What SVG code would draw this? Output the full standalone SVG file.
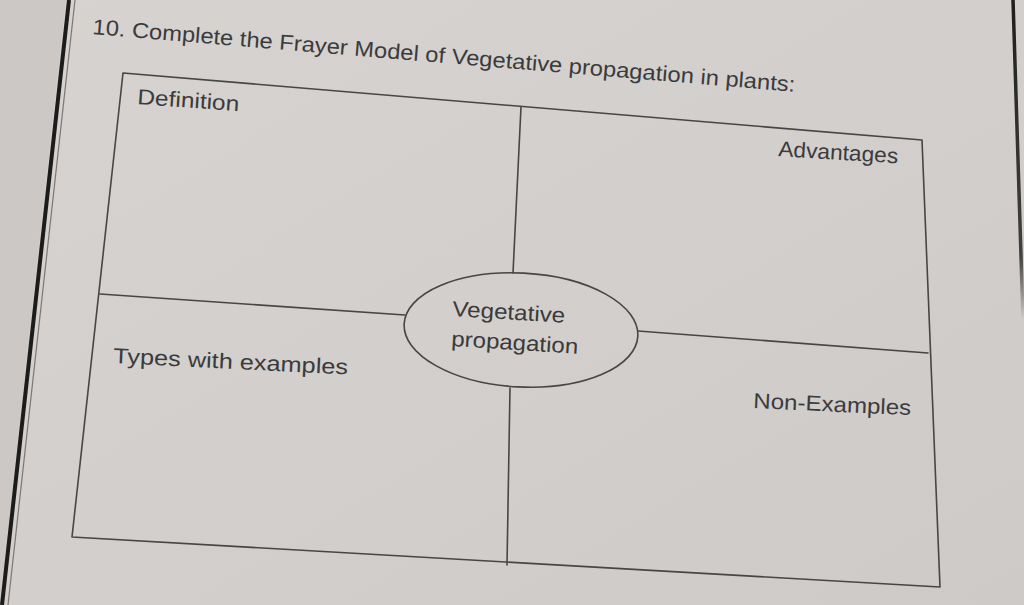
<svg xmlns="http://www.w3.org/2000/svg" width="1024" height="605" viewBox="0 0 1024 605">
  <defs>
    <linearGradient id="paper" x1="0" y1="0" x2="1" y2="1">
      <stop offset="0" stop-color="#d6d3d1"/>
      <stop offset="0.5" stop-color="#d2cfcd"/>
      <stop offset="1" stop-color="#cdcac8"/>
    </linearGradient>
    <linearGradient id="fade" x1="0" y1="0" x2="0" y2="1">
      <stop offset="0" stop-color="#1e1e1e" stop-opacity="1"/>
      <stop offset="0.8" stop-color="#1e1e1e" stop-opacity="0.8"/>
      <stop offset="1" stop-color="#1e1e1e" stop-opacity="0"/>
    </linearGradient>
    <style>
      .ln { fill: none; stroke: #464646; stroke-width: 1.6; stroke-linecap: round; stroke-linejoin: round; }
      .tx { font-family: "Liberation Sans", Arial, sans-serif; fill: #3b3b3b; font-size: 21.5px; }
    </style>
  </defs>

  <rect x="0" y="0" width="1024" height="605" fill="url(#paper)"/>
  <polygon points="0,0 66,0 0,600" fill="#cbc8c6"/>

  <g id="page-edges">
    <line x1="69" y1="0" x2="2" y2="605" stroke="#1c1c1c" stroke-width="4"/>
    <line x1="75" y1="0" x2="8" y2="605" stroke="#7a7877" stroke-width="1.2"/>
    <line x1="1013" y1="0" x2="1023" y2="320" stroke="url(#fade)" stroke-width="3.5"/>
  </g>

  <g id="title">
    <text class="tx" transform="translate(92,34) rotate(4.7)" textLength="705" lengthAdjust="spacingAndGlyphs">10. Complete the Frayer Model of Vegetative propagation in plants:</text>
  </g>

  <g id="frame">
    <polygon class="ln" points="123,73 922,140 940,587 72,537"/>
  </g>

  <g id="connectors">
    <line class="ln" x1="521" y1="107" x2="513" y2="273"/>
    <line class="ln" x1="510" y1="388" x2="507" y2="565"/>
    <line class="ln" x1="100" y1="294" x2="405" y2="315"/>
    <line class="ln" x1="638" y1="331" x2="928" y2="353"/>
  </g>

  <g id="definition">
    <text class="tx" transform="translate(137,104) rotate(4)" textLength="102" lengthAdjust="spacingAndGlyphs">Definition</text>
  </g>

  <g id="advantages">
    <text class="tx" transform="translate(778,156) rotate(3.5)" textLength="120" lengthAdjust="spacingAndGlyphs">Advantages</text>
  </g>

  <g id="types-with-examples">
    <text class="tx" transform="translate(113,363) rotate(2.8)" textLength="235" lengthAdjust="spacingAndGlyphs">Types with examples</text>
  </g>

  <g id="non-examples">
    <text class="tx" transform="translate(753,408) rotate(2.6)" textLength="158" lengthAdjust="spacingAndGlyphs">Non-Examples</text>
  </g>

  <g id="center">
    <ellipse class="ln" cx="521" cy="330" rx="117" ry="57" transform="rotate(3 521 330)"/>
    <text class="tx" transform="translate(452,316) rotate(3.5)" textLength="113" lengthAdjust="spacingAndGlyphs">Vegetative</text>
    <text class="tx" transform="translate(451,346) rotate(3.5)" textLength="127" lengthAdjust="spacingAndGlyphs">propagation</text>
  </g>
</svg>
